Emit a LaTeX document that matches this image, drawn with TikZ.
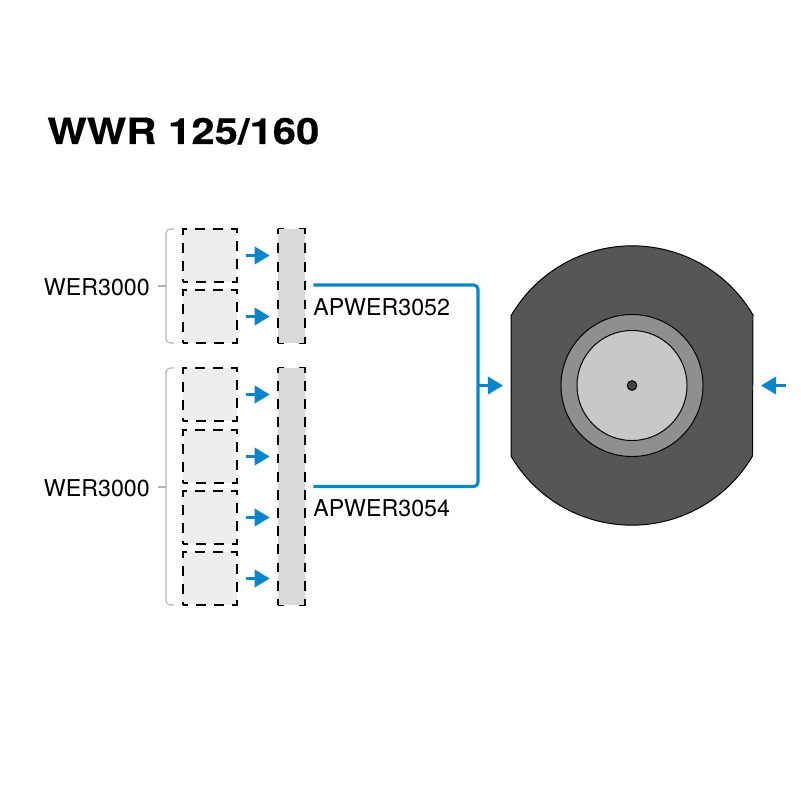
\documentclass[tikz,border=0pt]{standalone}
\usepackage{fontspec}
\setmainfont{TeX Gyre Heros}
\newfontfamily\titlefont[FakeStretch = 1.158, FakeBold = 0.35]{TeX Gyre Heros}
\usetikzlibrary{arrows.meta}

\definecolor{pipeblue}{HTML}{0A85C9}
\definecolor{boxgray}{HTML}{EDEDED}
\definecolor{bargray}{HTML}{D9D9D9}
\definecolor{discgray}{HTML}{575556}
\definecolor{coregray}{HTML}{C9C7C7}
\definecolor{pingray}{HTML}{454545}
\definecolor{bracegray}{HTML}{B4B4B4}

\pgfdeclareradialshading{ringshade}{\pgfpoint{0bp}{6bp}}{color(0bp)=(black!44);color(40bp)=(black!44);color(46bp)=(black!62);color(56bp)=(black!50)}

\tikzset{
    modulebox/.style = {draw = black, fill = boxgray, line width = 0.8pt,
                        dash pattern = on 7pt off 5.8pt, dash phase = 3.5pt,
                        inner sep = 0pt, minimum width = 1.35cm, minimum height = 1.325cm},
    railbar/.style = {fill = bargray, inner sep = 0pt, minimum width = 0.675cm},
    railside/.style = {draw = black, line width = 1.5pt,
                       dash pattern = on 7pt off #1, dash phase = 3.5pt},
    railcap/.style = {draw = black, line width = 1.1pt,
                      dash pattern = on 4.2pt off 10.8pt on 4.2pt off 0pt},
    feedarrow/.style = {-{Triangle[width = 12.3pt, length = 10.7pt]}, color = pipeblue,
                        line width = 2pt, shorten < = 5.7pt, shorten > = 5.7pt},
    pipeline/.style = {color = pipeblue, line width = 2.2pt, rounded corners = 3pt},
    bracket/.style = {color = bracegray, line width = 0.8pt, rounded corners = 3pt},
    partlabel/.style = {font = \fontsize{16.5pt}{18pt}\selectfont, inner sep = 0pt}
}

\begin{document}
\begin{tikzpicture}[x = 0.025cm, y = -0.025cm]
        \useasboundingbox (0, 0) rectangle (801, 801);

        % Titel
        \node [anchor = base west, inner sep = 0pt,
               font = \fontsize{25.7pt}{28pt}\titlefont\bfseries] (title)
              at (47, 144) {WWR 125/160};

        %
        % ERSTE GRUPPE
        %

        % Module
        \node [modulebox] (mod1) at (210, 255.5) {};
        \node [modulebox] (mod2) at (210, 316.5) {};

        % Schiene
        \node [railbar, minimum height = 2.85cm] (rail1) at (291.5, 286) {};
        \draw [railside = 6.47pt] (rail1.north west) -- (rail1.south west);
        \draw [railside = 6.47pt] (rail1.north east) -- (rail1.south east);
        \draw [railcap] (rail1.north west) -- (rail1.north east);
        \draw [railcap] (rail1.south west) -- (rail1.south east);

        % Pfeile
        \draw [feedarrow] (mod1) -- (mod1 -| rail1.west);
        \draw [feedarrow] (mod2) -- (mod2 -| rail1.west);

        % Klammer
        \coordinate (brace1) at (166, 286);
        \draw [bracket] (174, 229) -- (166, 229) -- (166, 343) -- (174, 343);
        \node [partlabel, anchor = east] (wer1) at (150, 287) {WER3000};
        \draw [bracket] (158, 286) -- (brace1);

        \node [partlabel, anchor = base west] (apwer1) at (313, 315) {APWER3052};

        %
        % ZWEITE GRUPPE
        %

        % Module
        \node [modulebox] (mod3) at (210, 394.5) {};
        \node [modulebox] (mod4) at (210, 456.5) {};
        \node [modulebox] (mod5) at (210, 517.5) {};
        \node [modulebox] (mod6) at (210, 578.5) {};

        % Schiene
        \node [railbar, minimum height = 5.925cm] (rail2) at (291.5, 486.5) {};
        \draw [railside = 5.92pt] (rail2.north west) -- (rail2.south west);
        \draw [railside = 5.92pt] (rail2.north east) -- (rail2.south east);
        \draw [railcap] (rail2.north west) -- (rail2.north east);
        \draw [railcap] (rail2.south west) -- (rail2.south east);

        % Pfeile
        \draw [feedarrow] (mod3) -- (mod3 -| rail2.west);
        \draw [feedarrow] (mod4) -- (mod4 -| rail2.west);
        \draw [feedarrow] (mod5) -- (mod5 -| rail2.west);
        \draw [feedarrow] (mod6) -- (mod6 -| rail2.west);

        % Klammer
        \coordinate (brace2) at (166, 487);
        \draw [bracket] (174, 368) -- (166, 368) -- (166, 605) -- (174, 605);
        \node [partlabel, anchor = east] (wer2) at (150, 488) {WER3000};
        \draw [bracket] (158, 487) -- (brace2);

        \node [partlabel, anchor = base west] (apwer2) at (313, 516) {APWER3054};

        %
        % SCHEIBE
        %

        % Aussenkontur
        \draw [fill = discgray, line width = 0.7pt]
              (511, 315) -- (511, 456)
              arc [start angle = 149.6, end angle = 30.4, radius = 140]
              -- (753, 315)
              arc [start angle = -30.4, end angle = -149.6, radius = 140]
              -- cycle;

        % Ring, Kern, Mitte
        \node [circle, draw, shading = ringshade, line width = 0.7pt, inner sep = 0pt,
               minimum size = 3.55cm] (ring) at (632, 385.5) {};
        \node [circle, draw, fill = coregray, line width = 0.7pt, inner sep = 0pt,
               minimum size = 2.75cm] (core) at (632, 385.5) {};
        \node [circle, draw, fill = pingray, line width = 0.7pt, inner sep = 0pt,
               minimum size = 0.24cm] (pin) at (632, 385.5) {};

        % Anschlusspunkte
        \coordinate (flatleft) at (511, 385.5);
        \coordinate (flatright) at (753, 385.5);
        \coordinate (pressright) at (794, 385.5);
        \coordinate (junction) at (478, 385.5);
        \coordinate (bendtop) at (478, 285);
        \coordinate (bendbottom) at (478, 486.5);

        %
        % LEITUNG
        %
        \draw [pipeline, shorten < = 5.7pt] (bendtop -| rail1.east) -- (bendtop) -- (junction);
        \draw [pipeline, shorten < = 5.7pt] (bendbottom -| rail2.east) -- (bendbottom) -- (junction);

        % Pfeile zur Scheibe
        \draw [feedarrow, shorten < = 0pt] (junction) -- (flatleft);
        \draw [feedarrow] (pressright) -- (flatright);
\end{tikzpicture}
\end{document}
